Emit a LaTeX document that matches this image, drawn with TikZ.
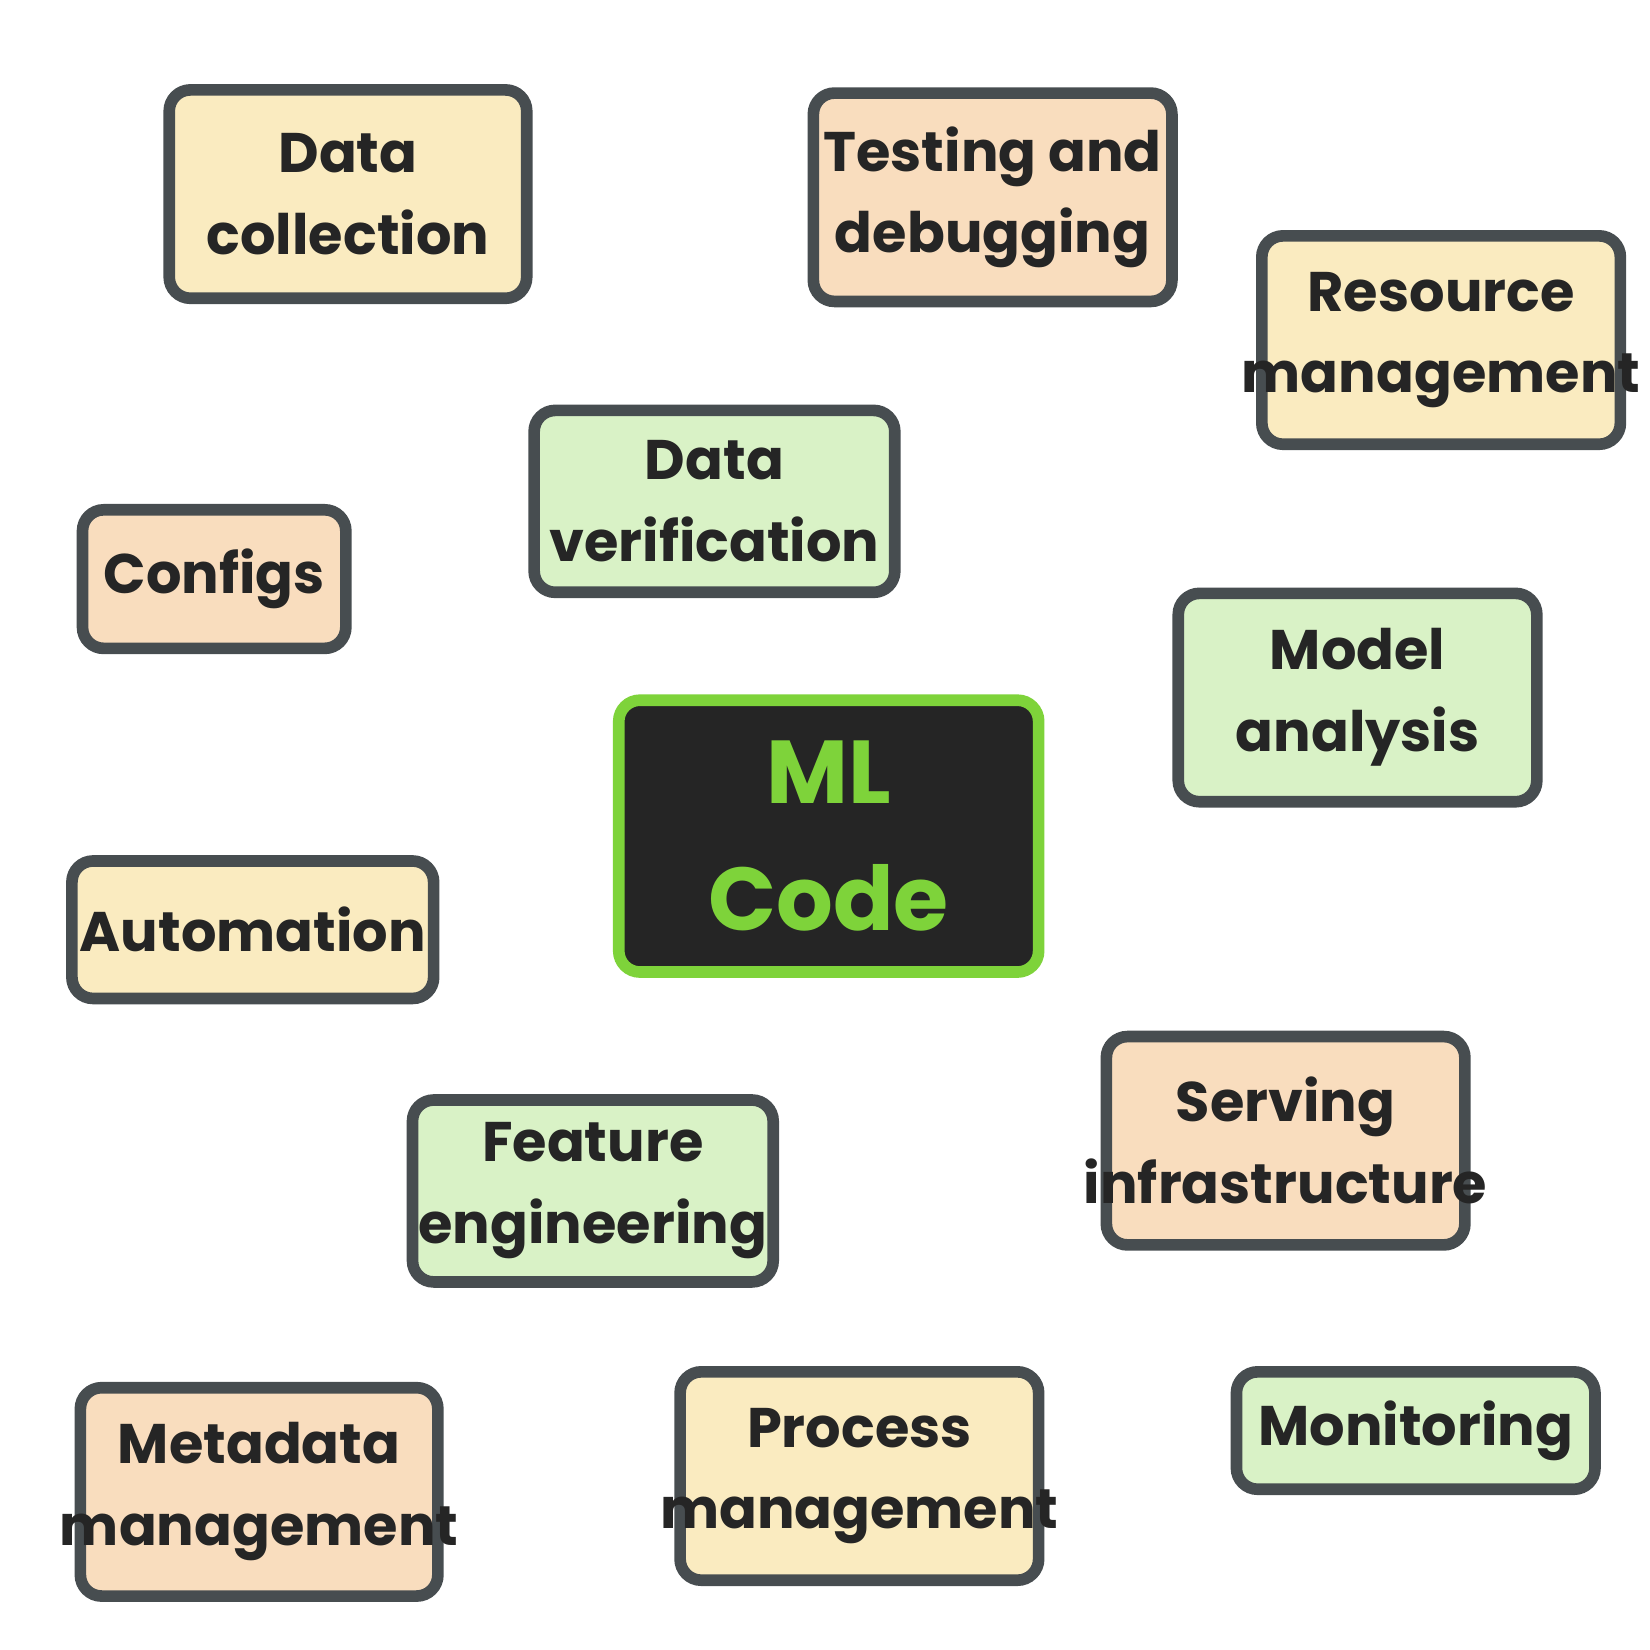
\documentclass[tikz,border=0pt]{standalone}
\usepackage{fontspec}
\setmainfont{Poppins}
\definecolor{yel}{HTML}{FAEBC0}
\definecolor{ora}{HTML}{F9DDBE}
\definecolor{grn}{HTML}{D9F2C6}
\definecolor{bord}{HTML}{474D50}
\definecolor{txt}{HTML}{252525}
\definecolor{lime}{HTML}{7ED33A}
\begin{document}
\begin{tikzpicture}[x=0.01cm,y=-0.01cm,
  box/.style={draw=bord,line width=1.1mm,rounded corners=0.2cm,align=center,text=txt,font=\fontsize{15}{22}\selectfont\bfseries}]
\useasboundingbox (0,0) rectangle (1560,1560);
\newcommand\bx[7]{\draw[box,fill=#6] (#2,#3) rectangle (#4,#5) node[midway] (#1) {#7};}
\bx{dc}{160}{85}{498}{282}{yel}{Data\\collection}
\bx{td}{769}{88}{1108}{285}{ora}{Testing and\\debugging}
\bx{rm}{1193}{223}{1532}{420}{yel}{Resource\\management}
\bx{dv}{505}{388}{846}{560}{grn}{Data\\verification}
\bx{cf}{78}{482}{327}{613}{ora}{Configs}
\bx{ma}{1114}{561}{1453}{758}{grn}{Model\\analysis}
\bx{au}{68}{814}{410}{944}{yel}{Automation}
\bx{si}{1046}{980}{1385}{1177}{ora}{Serving\\infrastructure}
\bx{fe}{390}{1040}{731}{1212}{grn}{Feature\\engineering}
\bx{mm}{76}{1312}{414}{1509}{ora}{Metadata\\management}
\bx{pm}{643}{1297}{982}{1494}{yel}{Process\\management}
\bx{mo}{1169}{1297}{1508}{1408}{grn}{Monitoring}
\draw[box,draw=lime,fill=txt] (585,662) rectangle (982,919) node[midway,text=lime,font=\fontsize{24}{34}\selectfont\bfseries] (ml) {ML\\Code};
\end{tikzpicture}
\end{document}
